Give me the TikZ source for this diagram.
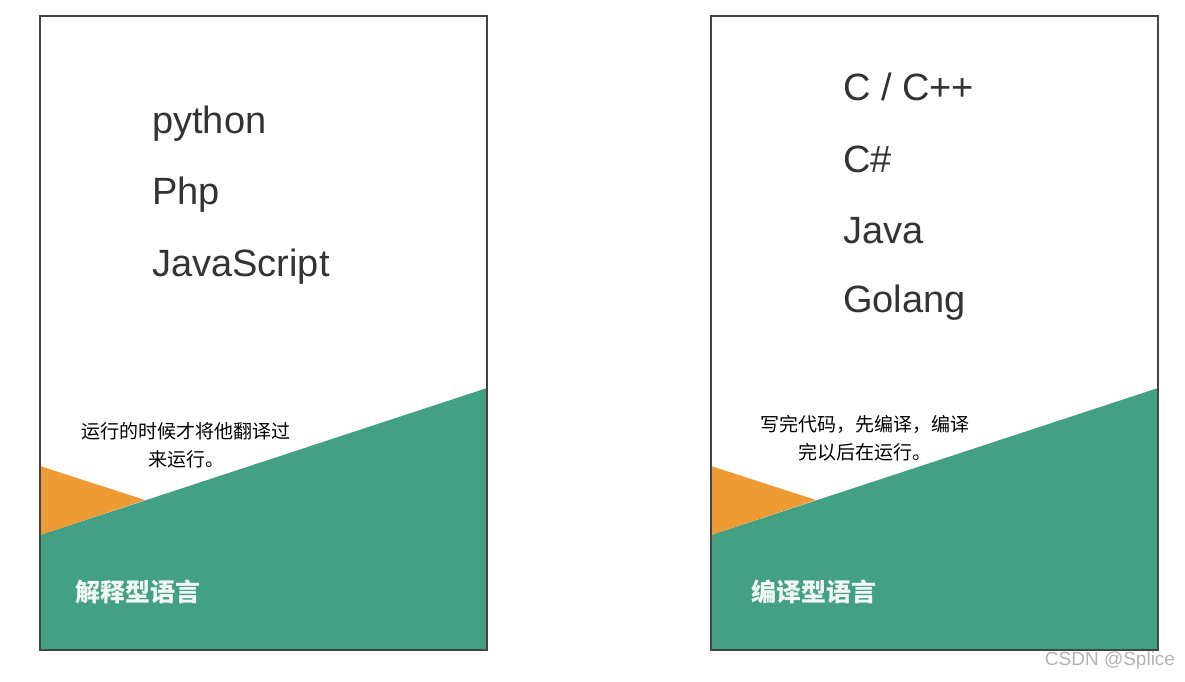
\documentclass[tikz,border=0pt]{standalone}
\usepackage{fontspec}
\setmainfont{Liberation Sans}
\newfontfamily\cjk{Noto Sans CJK SC}
\definecolor{grn}{HTML}{44A085}
\definecolor{org}{HTML}{EE9A35}
\definecolor{frame}{HTML}{444444}
\definecolor{txt}{HTML}{333333}
\tikzset{lang/.style={anchor=west,inner sep=0pt,text=txt,font=\fontsize{38}{40}\selectfont},
note/.style={inner sep=0pt,text=black,font=\cjk\fontsize{19}{28}\selectfont,align=center},
kind/.style={anchor=west,inner sep=0pt,text=white!92!grn,font=\cjk\bfseries\fontsize{25}{28}\selectfont},
card/.style={draw=frame,line width=1.2pt}}
\begin{document}
\begin{tikzpicture}[x=1pt,y=-1pt]
\useasboundingbox (0,0) rectangle (1185,681);
\foreach \ox in {0,671}{
  \fill[grn] (40+\ox,535) -- (487+\ox,388) -- (487+\ox,650) -- (40+\ox,650) -- cycle;
  \fill[org] (40+\ox,466) -- (145+\ox,500) -- (40+\ox,535) -- cycle;
  \draw[card] (40+\ox,16) rectangle (487+\ox,650);
}
\node[lang] (l1) at (152,124) {python};
\node[lang] (l2) at (152,195) {Php};
\node[lang] (l3) at (152,267) {JavaScript};
\node[lang] (r1) at (843,87) {C / C++};
\node[lang] (r2) at (843,159) {C\#};
\node[lang] (r3) at (843,231) {Java};
\node[lang] (r4) at (843,303) {Golang};
\node[note] (n1) at (186,445) {运行的时候才将他翻译过\\来运行。};
\node[note] (n2) at (865,438) {写完代码，先编译，编译\\完以后在运行。};
\node[kind] (k1) at (75,592) {解释型语言};
\node[kind] (k2) at (751,592) {编译型语言};
\node[inner sep=0pt,text=black!30,font=\fontsize{19}{20}\selectfont] (wm) at (1110,661) {CSDN @Splice};
\end{tikzpicture}
\end{document}
